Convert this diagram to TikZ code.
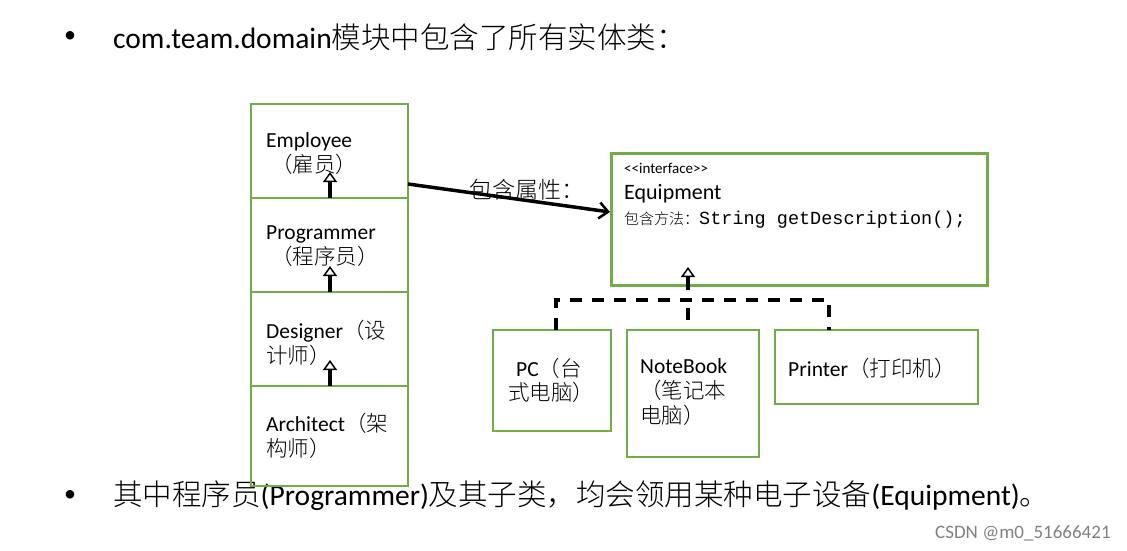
\documentclass[tikz,border=0pt]{standalone}
\usepackage{fontspec}
\setmainfont{Carlito}
\newfontfamily\cjk{Noto Sans CJK SC Light}
\newfontfamily\mymono{Liberation Mono}
\usetikzlibrary{arrows.meta}
\definecolor{gr}{RGB}{112,173,71}
\newcommand{\zh}[1]{{\cjk #1}}
\begin{document}
\begin{tikzpicture}[x=1pt,y=-1pt,
  box/.style={draw=gr,line width=2.5pt},
  lbl/.style={anchor=north west,align=left,inner sep=0pt,font=\fontsize{21.5}{25}\selectfont},
  inh/.style={line width=3.5pt,-{Triangle[open,length=10pt,width=14pt,line width=1.5pt]}},
  big/.style={anchor=west,inner sep=0pt,font=\fontsize{29.5}{32}\selectfont}]
\useasboundingbox (0,0) rectangle (1127,551);
\node[big,font=\fontsize{24}{30}\selectfont] (b1) at (64,37) {•};
\node[big] (t1) at (113,37) {com.team.domain\zh{模块中包含了所有实体类：}};
\node[big,font=\fontsize{24}{30}\selectfont] (b2) at (64,496) {•};
\node[big] (t2) at (113,496) {\zh{其中程序员}(Programmer)\zh{及其子类，均会领用某种电子设备}(Equipment)\zh{。}};
\node[anchor=west,inner sep=0pt,text=gray,font=\fontsize{19}{20}\selectfont] (wm) at (935,533) {CSDN @m0\_51666421};
% left boxes
\draw[box] (251,104) rectangle (408,198);
\draw[box] (251,198) rectangle (408,292);
\draw[box] (251,292) rectangle (408,386);
\draw[box] (251,386) rectangle (408,486);
\node[lbl] (emp) at (266,132) {Employee\\\ \zh{（雇员）}};
\node[lbl] (pro) at (266,226) {Programmer\\\ \zh{（程序员）}};
\node[lbl] (des) at (266,320) {Designer\zh{（设}\\\zh{计师）}};
\node[lbl] (arc) at (266,413) {Architect\zh{（架}\\\zh{构师）}};
\coordinate (a1s) at (330,198); \coordinate (a1e) at (330,172);
\coordinate (a2s) at (330,292); \coordinate (a2e) at (330,266);
\coordinate (a3s) at (330,386); \coordinate (a3e) at (330,360);
\draw[inh] (a1s) -- (a1e);
\draw[inh] (a2s) -- (a2e);
\draw[inh] (a3s) -- (a3e);
% equipment
\node[box,minimum width=376pt,minimum height=132pt,anchor=north west] (eq) at (610,152) {};
\node[anchor=north west,inner sep=0pt,font=\fontsize{15}{16}\selectfont] (st) at (624,163) {\textless\kern0pt\textless interface\textgreater\kern0pt\textgreater};
\node[anchor=north west,inner sep=0pt,font=\fontsize{22}{24}\selectfont] (en) at (624,184) {Equipment};
\node[anchor=north west,inner sep=0pt,font=\fontsize{15}{16}\selectfont] (em) at (624,211) {\zh{包含方法：}{\mymono\fontsize{18.5}{20}\selectfont String getDescription();}};
\coordinate (src) at (408,184); \coordinate (dst) at (610,212);
\draw[line width=3.5pt,-{Straight Barb[length=9pt,width=16pt,line width=2.5pt]}] (src) -- (dst);
\node[anchor=west,inner sep=0pt,font=\cjk\fontsize{23}{24}\selectfont] (lab) at (469,190) {包含属性：};
% children
\draw[box] (493,330) rectangle (611,431);
\draw[box] (627,330) rectangle (759,457);
\draw[box] (775,330) rectangle (978,404);
\node[lbl] (pc) at (516,358) {PC\zh{（台}\\[-1pt]\hspace*{-8pt}\zh{式电脑）}};
\node[lbl] (nb) at (640,358) {NoteBook\\\zh{（笔记本}\\\zh{电脑）}};
\node[lbl] (pr) at (788,358) {Printer\zh{（打印机）}};
\coordinate (j) at (688,290); \coordinate (tip) at (688,267);
\coordinate (l1) at (556,300); \coordinate (l2) at (829,300);
\coordinate (d1) at (556,330); \coordinate (d2) at (829,330); \coordinate (d0) at (688,320);
\draw[line width=3.5pt,dash pattern=on 12pt off 10pt] (d1) -- (l1) -- (l2) -- (d2);
\draw[line width=3.5pt,dash pattern=on 12pt off 10pt] (d0) -- (688,300);
\draw[inh] (j) -- (tip);
\end{tikzpicture}
\end{document}
